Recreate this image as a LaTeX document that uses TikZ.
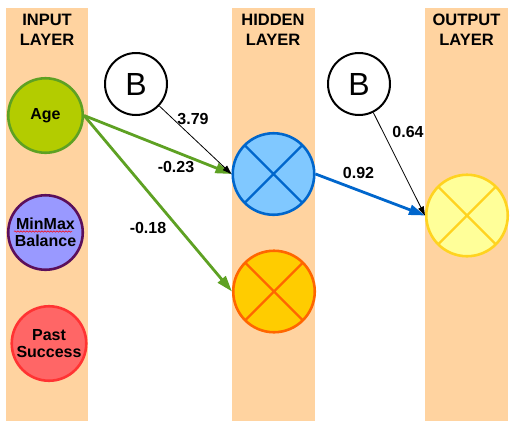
\documentclass[tikz,border=0pt]{standalone}
\usepackage{fontspec}
\setmainfont{Liberation Sans}
\usetikzlibrary{arrows.meta,decorations.pathmorphing}
\definecolor{bandpeach}{RGB}{255,211,160}
\definecolor{agefill}{RGB}{179,204,0}
\definecolor{agegreen}{RGB}{94,161,35}
\definecolor{mmfill}{RGB}{153,153,255}
\definecolor{mmdraw}{RGB}{91,15,91}
\definecolor{psfill}{RGB}{255,102,102}
\definecolor{psdraw}{RGB}{255,51,51}
\definecolor{hidblue}{RGB}{128,200,255}
\definecolor{hiddraw}{RGB}{0,102,204}
\definecolor{hidgold}{RGB}{255,204,0}
\definecolor{hidorange}{RGB}{255,102,0}
\definecolor{outfill}{RGB}{255,255,153}
\definecolor{outdraw}{RGB}{255,211,32}

\begin{document}
\begin{tikzpicture}[
  x=1pt, y=-1pt,
  every node/.style={font=\bfseries\fontsize{16}{17}\selectfont},
  layer title/.style={align=center, font=\bfseries\fontsize{16.5}{20}\selectfont},
  in unit/.style={circle, line width=2.6pt, minimum size=74.5pt, inner sep=0pt, align=center},
  sum unit/.style={circle, line width=2.6pt, minimum size=81.5pt, inner sep=0pt,
    path picture={\draw[line width=2.4pt, #1]
      (path picture bounding box.north west) -- (path picture bounding box.south east)
      (path picture bounding box.north east) -- (path picture bounding box.south west);}},
  bias/.style={circle, draw=black, line width=2pt, fill=white, minimum size=62pt,
    inner sep=0pt, font=\fontsize{32}{32}\selectfont},
  weight/.style={font=\bfseries\fontsize{16}{17}\selectfont},
  thick arrow/.style={line width=2.8pt, -{Triangle[length=16pt,width=10pt]}},
  thin arrow/.style={line width=0.8pt, black, -{Triangle[length=9pt,width=6pt]}},
]

\useasboundingbox (0,0) rectangle (513,429);

%% Layer bands
\fill[bandpeach] (6,8) rectangle (88,421);
\fill[bandpeach] (232,8) rectangle (315,421);
\fill[bandpeach] (425,8) rectangle (508,421);

%% Layer titles
\node[layer title] (tin) at (47,30) {INPUT\\LAYER};
\node[layer title] (thid) at (273,30) {HIDDEN\\LAYER};
\node[layer title] (tout) at (466.5,30) {OUTPUT\\LAYER};

%% Input units
\node[in unit, fill=agefill, draw=agegreen] (age) at (45.5,115.5) {Age};
\node[in unit, fill=mmfill, draw=mmdraw] (mm) at (45.5,232.5) {MinMax\\Balance};
\node[in unit, fill=psfill, draw=psdraw] (ps) at (49,343.5) {Past\\Success};

% spell-check squiggle under MinMax
\draw[red, line width=0.5pt, decorate,
  decoration={snake, amplitude=0.7pt, segment length=3pt}] (14,231.5) -- (72,231.5);

%% Hidden and output units
\node[sum unit=hiddraw, fill=hidblue, draw=hiddraw] (h1) at (273.5,174) {};
\node[sum unit=hidorange, fill=hidgold, draw=hidorange] (h2) at (274,291.5) {};
\node[sum unit=outdraw, fill=outfill, draw=outdraw] (out) at (467,215.5) {};

%% Bias units
\node[bias] (b1) at (136,84) {B};
\node[bias] (b2) at (359,84) {B};

%% Connections
\draw[thick arrow, agegreen] (age.east) -- (h1.west);
\draw[thick arrow, agegreen] (age.east) -- (h2.west);
\draw[thin arrow] (b1) -- (h1.west);
\draw[thick arrow, hiddraw] (h1.east) -- (out.west);
\draw[thin arrow] (b2) -- (out.west);

%% Weights
\node[weight] (w1) at (193,119) {3.79};
\node[weight] (w2) at (176,167) {-0.23};
\node[weight] (w3) at (148,228) {-0.18};
\node[weight] (w4) at (358.5,173) {0.92};
\node[weight] (w5) at (408,132) {0.64};

\end{tikzpicture}
\end{document}
